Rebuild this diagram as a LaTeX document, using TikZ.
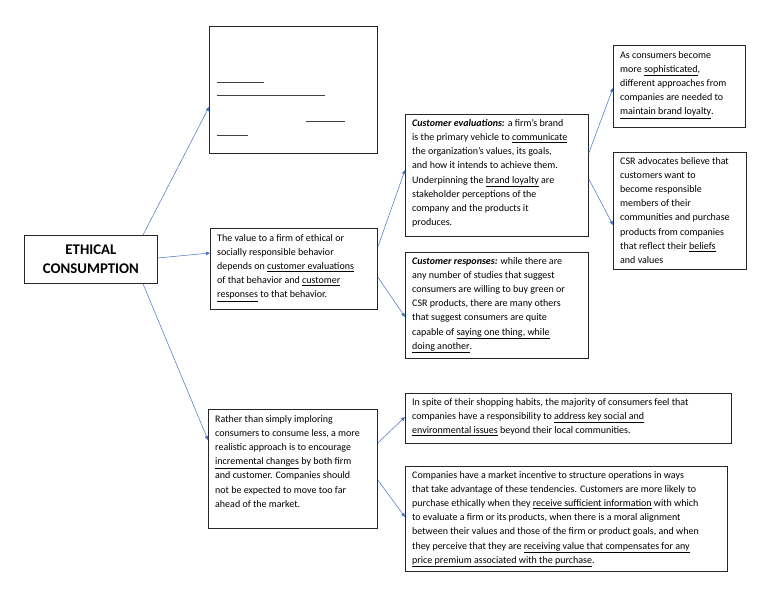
\documentclass[tikz,border=0pt]{standalone}
\usepackage{fontspec}
\setmainfont{Carlito}
\usetikzlibrary{arrows.meta}
\definecolor{arrowblue}{HTML}{4472C4}
\newcommand{\myul}[1]{\underline{#1}}
\begin{document}
\begin{tikzpicture}[x=1pt,y=-1pt,
  box/.style={draw=black!85,line width=0.8pt,anchor=north west,inner sep=0pt},
  txt/.style={anchor=north west,inner sep=0pt,align=left,font=\fontsize{10}{14.2}\selectfont},
  link/.style={draw=arrowblue,line width=0.5pt,-{Triangle[length=4pt,width=3.5pt]}},
  fake/.style={draw=black!75,line width=0.7pt}]
\useasboundingbox (0,0) rectangle (768,594);
% boxes
\node[box,minimum width=133pt,minimum height=48pt,font=\fontsize{14.8}{19}\selectfont\bfseries,align=center] (ec) at (24,235) {ETHICAL\\CONSUMPTION};
\node[box,minimum width=168pt,minimum height=127pt] (top) at (209,26) {};
\node[box,minimum width=167pt,minimum height=81pt] (mid) at (210,228) {};
\node[box,minimum width=183pt,minimum height=122pt] (ce) at (405,114) {};
\node[box,minimum width=183pt,minimum height=106pt] (cr) at (405,252) {};
\node[box,minimum width=132pt,minimum height=82pt] (tra) at (613,45) {};
\node[box,minimum width=133pt,minimum height=117pt] (trb) at (613,152) {};
\node[box,minimum width=169pt,minimum height=119pt] (bl) at (208,409) {};
\node[box,minimum width=326pt,minimum height=50pt] (sp) at (405,393) {};
\node[box,minimum width=322pt,minimum height=105pt] (co) at (405,466) {};
% empty-box underlines
\draw[fake] (216.7,82) -- (264,82);
\draw[fake] (216.7,95.7) -- (325,95.7);
\draw[fake] (306,121.7) -- (345,121.7);
\draw[fake] (216.7,135) -- (247.7,135);
% texts
\node[txt] (midt) at ([shift={(7,6)}]mid.north west) {The value to a firm of ethical or\\socially responsible behavior\\depends on \myul{customer evaluations}\\of that behavior and \myul{customer}\\\myul{responses} to that behavior.};
\node[txt] (cet) at ([shift={(7,5)}]ce.north west) {\textbf{\textit{Customer evaluations:}} a firm’s brand\\is the primary vehicle to \myul{communicate}\\the organization’s values, its goals,\\and how it intends to achieve them.\\Underpinning the \myul{brand loyalty} are\\stakeholder perceptions of the\\company and the products it\\produces.};
\node[txt] (crt) at ([shift={(7,5)}]cr.north west) {\textbf{\textit{Customer responses:}} while there are\\any number of studies that suggest\\consumers are willing to buy green or\\CSR products, there are many others\\that suggest consumers are quite\\capable of \myul{saying one thing, while}\\\myul{doing another}.};
\node[txt] (trat) at ([shift={(7,6)}]tra.north west) {As consumers become\\more \myul{sophisticated},\\different approaches from\\companies are needed to\\\myul{maintain brand loyalty}.};
\node[txt] (trbt) at ([shift={(7,5)}]trb.north west) {CSR advocates believe that\\customers want to\\become responsible\\members of their\\communities and purchase\\products from companies\\that reflect their \myul{beliefs}\\and values};
\node[txt] (blt) at ([shift={(7,6)}]bl.north west) {Rather than simply imploring\\consumers to consume less, a more\\realistic approach is to encourage\\\myul{incremental changes} by both firm\\and customer. Companies should\\not be expected to move too far\\ahead of the market.};
\node[txt] (spt) at ([shift={(7,5)}]sp.north west) {In spite of their shopping habits, the majority of consumers feel that\\companies have a responsibility to \myul{address key social and}\\\myul{environmental issues} beyond their local communities.};
\node[txt] (cot) at ([shift={(7,5)}]co.north west) {Companies have a market incentive to structure operations in ways\\that take advantage of these tendencies. Customers are more likely to\\purchase ethically when they \myul{receive sufficient information} with which\\to evaluate a firm or its products, when there is a moral alignment\\between their values and those of the firm or product goals, and when\\they perceive that they are \myul{receiving value that compensates for any}\\\myul{price premium associated with the purchase}.};
% connectors
\draw[link] (ec.north -| 143,0) -- (top.west |- 0,107);
\draw[link] (ec.east |- 0,258) -- (mid.west |- 0,253);
\draw[link] (ec.south -| 143,0) -- (bl.west |- 0,440);
\draw[link] (mid.east |- 0,247) -- (ce.west |- 0,170);
\draw[link] (mid.east |- 0,277) -- (cr.west |- 0,317);
\draw[link] (ce.east |- 0,153) -- (tra.west |- 0,88);
\draw[link] (ce.east |- 0,179) -- (trb.west |- 0,225);
\draw[link] (bl.east |- 0,443) -- (sp.west |- 0,417);
\draw[link] (bl.east |- 0,480) -- (co.west |- 0,517);
\end{tikzpicture}
\end{document}
